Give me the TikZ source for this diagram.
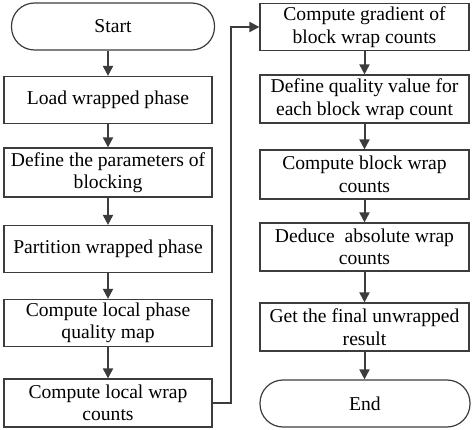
\documentclass[tikz,border=0pt]{standalone}
\usepackage{fontspec}
\setmainfont{Liberation Serif}
\usetikzlibrary{calc}
\usetikzlibrary{arrows.meta}
\definecolor{linegray}{HTML}{3C3C3C}
\tikzset{
    stepbox/.style={rectangle, draw=linegray, line width=1.2pt, align=center, minimum width=208pt, minimum height=47pt, inner sep=1pt, font=\fontsize{19.6}{22.5}\selectfont},
    termbox/.style={stepbox, rounded corners=23pt, minimum width=203pt},
    flow/.style={draw=linegray, line width=2pt, -{Triangle[width=10pt,length=10pt]}}
}
\begin{document}
\begin{tikzpicture}[x=1pt,y=-1pt]
        \useasboundingbox (0,0) rectangle (474,430);
        \node[termbox] at (113,26.5) (start) {Start};
        \node[stepbox] at (108,100) (load) {Load wrapped phase};
        \node[stepbox, minimum height=49pt] at (108,172.5) (params) {Define the parameters of\\blocking};
        \node[stepbox] at (108,249) (partition) {Partition wrapped phase};
        \node[stepbox] at (108,323) (qualmap) {Compute local phase\\quality map};
        \node[stepbox, minimum height=48pt] at (108,403) (localwrap) {Compute local wrap\\counts};
        \node[stepbox, minimum width=209pt] at (364.5,27) (gradient) {Compute gradient of\\block wrap counts};
        \node[stepbox, minimum width=209pt, minimum height=48pt] at (364.5,99) (qualvalue) {Define quality value for\\each block wrap count};
        \node[stepbox, minimum width=209pt, minimum height=49pt] at (364.5,174.5) (blockwrap) {Compute block wrap\\counts};
        \node[stepbox, minimum width=209pt, minimum height=48pt] at (364.5,247) (abswrap) {Deduce\ \ absolute wrap\\counts};
        \node[stepbox, minimum width=209pt, minimum height=48pt] at (364.5,327) (result) {Get the final unwrapped\\result};
        \node[termbox, minimum width=210pt] at (365,403.5) (end) {End};
        \draw[flow] (start.south -| load.north) -- (load);
        \draw[flow] (load) -- (params);
        \draw[flow] (params) -- (partition);
        \draw[flow] (partition) -- (qualmap);
        \draw[flow] (qualmap) -- (localwrap);
        \draw[flow] (localwrap.east) -- ($(localwrap.east)+(18,0)$) |- (gradient.west);
        \draw[flow] (gradient) -- (qualvalue);
        \draw[flow] (qualvalue) -- (blockwrap);
        \draw[flow] (blockwrap) -- (abswrap);
        \draw[flow] (abswrap) -- (result);
        \draw[flow] (result.south) -- (result.south |- end.north);
    \end{tikzpicture}
\end{document}
